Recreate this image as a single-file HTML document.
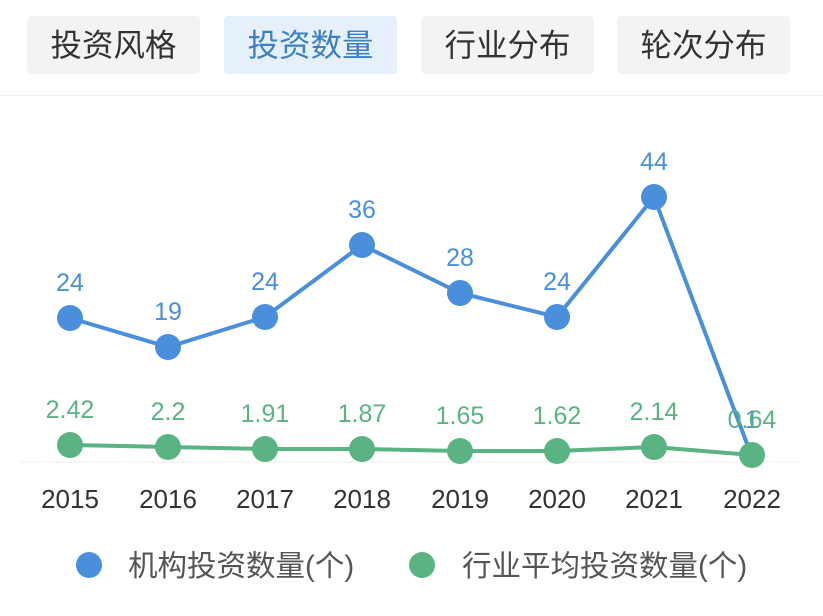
<!DOCTYPE html>
<html><head><meta charset="utf-8"><style>
html,body{margin:0;padding:0;background:#fff;}
body{width:823px;height:616px;position:relative;overflow:hidden;font-family:"Liberation Sans","Noto Sans CJK SC",sans-serif;}
.tab{position:absolute;top:16px;height:58px;width:173px;background:#f3f3f3;border-radius:4px;font-size:31.5px;color:#333;text-align:center;line-height:58px;}
.tab.act{background:#e6f0fa;color:#3d7fc4;}
.sep{position:absolute;left:0;top:95px;width:823px;height:1px;background:#f0f0f0;}
</style></head><body>
<div class="tab" style="left:27px">投资风格</div>
<div class="tab act" style="left:224px">投资数量</div>
<div class="tab" style="left:421px">行业分布</div>
<div class="tab" style="left:617px">轮次分布</div>
<div class="sep"></div>
<svg width="823" height="616" style="position:absolute;left:0;top:0" font-family="Liberation Sans, sans-serif">
<line x1="20" y1="462" x2="800" y2="462" stroke="#eee" stroke-width="1"/>
<polyline fill="none" stroke="#4a8fdc" stroke-width="4" points="70,318 168,347 265,317 362,245 460,293 557,317 654,197 752,457"/>
<polyline fill="none" stroke="#5ab383" stroke-width="4" points="70,445 168,447 265,449 362,449 460,451 557,451 654,447 752,455"/>
<g fill="#4a8fdc">
<circle cx="70" cy="318" r="13"/><circle cx="168" cy="347" r="13"/><circle cx="265" cy="317" r="13"/><circle cx="362" cy="245" r="13"/><circle cx="460" cy="293" r="13"/><circle cx="557" cy="317" r="13"/><circle cx="654" cy="197" r="13"/></g>
<g fill="#5ab383">
<circle cx="70" cy="445" r="13"/><circle cx="168" cy="447" r="13"/><circle cx="265" cy="449" r="13"/><circle cx="362" cy="449" r="13"/><circle cx="460" cy="451" r="13"/><circle cx="557" cy="451" r="13"/><circle cx="654" cy="447" r="13"/><circle cx="752" cy="455" r="13"/></g>
<g fill="#4a8fdc" font-size="25" text-anchor="middle">
<text x="70" y="291">24</text><text x="168" y="320">19</text><text x="265" y="290">24</text><text x="362" y="218">36</text><text x="460" y="266">28</text><text x="557" y="290">24</text><text x="654" y="170">44</text><text x="752" y="428">1</text></g>
<g fill="#5ab383" font-size="25" text-anchor="middle">
<text x="70" y="418">2.42</text><text x="168" y="420">2.2</text><text x="265" y="422">1.91</text><text x="362" y="422">1.87</text><text x="460" y="424">1.65</text><text x="557" y="424">1.62</text><text x="654" y="420">2.14</text><text x="752" y="428">0.64</text></g>
<g fill="#333" font-size="26" text-anchor="middle">
<text x="70" y="508">2015</text><text x="168" y="508">2016</text><text x="265" y="508">2017</text><text x="362" y="508">2018</text><text x="460" y="508">2019</text><text x="557" y="508">2020</text><text x="654" y="508">2021</text><text x="752" y="508">2022</text></g>
<circle cx="89" cy="565" r="13" fill="#4a8fdc"/>
<circle cx="422" cy="565" r="13" fill="#5ab383"/>
<g fill="#555" font-size="29.5" font-family="Liberation Sans, Noto Sans CJK SC, sans-serif">
<text x="128" y="576">机构投资数量(个)</text>
<text x="462" y="576">行业平均投资数量(个)</text></g>
</svg>
</body></html>
